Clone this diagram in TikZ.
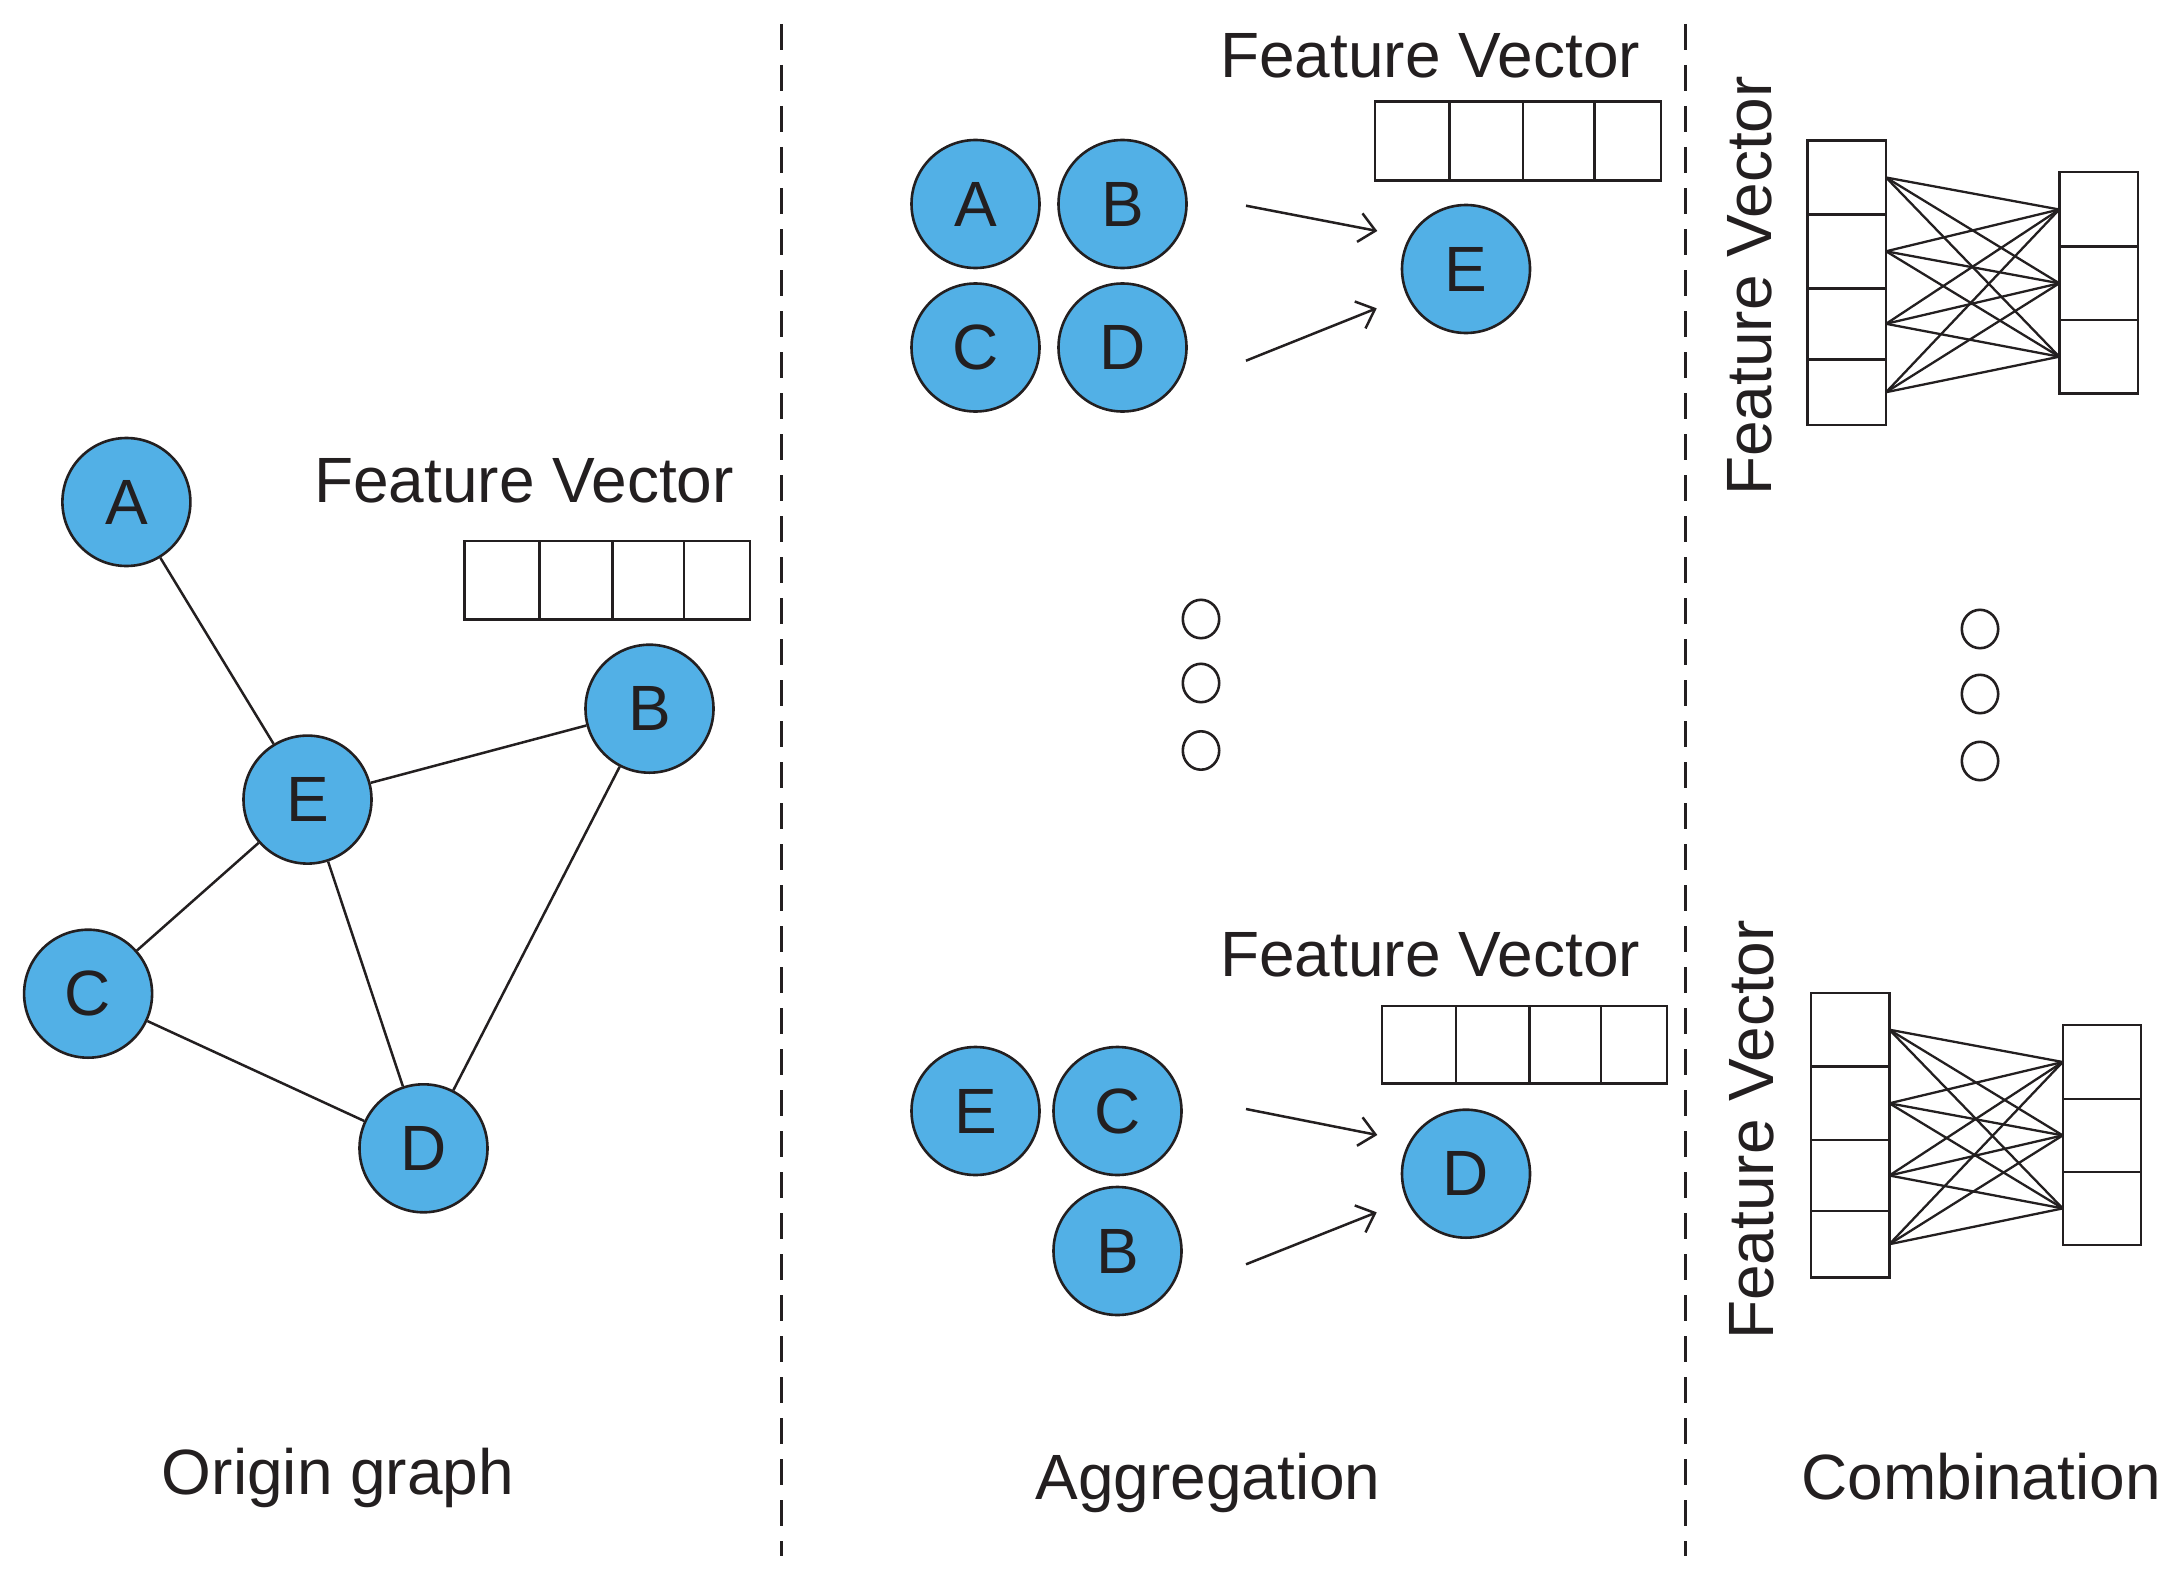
\documentclass[tikz,border=0pt]{standalone}
\usepackage{fontspec}
\setmainfont{Liberation Sans}
\usetikzlibrary{arrows.meta}
\definecolor{ink}{HTML}{231F20}
\definecolor{nodeblue}{RGB}{82,176,230}
\tikzset{
  gnode/.style={circle, draw=ink, fill=nodeblue, line width=2.6pt, minimum size=128pt, inner sep=0pt, text=ink, font=\fontsize{64}{77}\selectfont},
  lbl/.style={inner sep=0pt, text=ink, font=\fontsize{64}{77}\selectfont},
  cell/.style={rectangle, draw=ink, line width=2.4pt, inner sep=0pt, outer sep=0pt},
  edge/.style={draw=ink, line width=2.5pt},
  arr/.style={draw=ink, line width=2.5pt, -{Straight Barb[length=16pt, width=29pt, line width=2.5pt]}},
  fc/.style={draw=ink, line width=2.3pt},
  sep/.style={draw=ink, line width=2.5pt, dash pattern=on 26pt off 15pt},
  dotc/.style={draw=ink, line width=2.6pt}
}
\begin{document}
\begin{tikzpicture}[x=1pt,y=-1pt]
\useasboundingbox (0,0) rectangle (2180,1576);

% separators
\coordinate (s1t) at (781.7,24); \coordinate (s1b) at (781.7,1556);
\coordinate (s2t) at (1685.7,24); \coordinate (s2b) at (1685.7,1556);
\draw[sep] (s1t) -- (s1b);
\draw[sep] (s2t) -- (s2b);

% ---------- Origin graph ----------
\node[gnode] (gA) at (126.4,502) {A};
\node[gnode] (gE) at (307.5,799.6) {E};
\node[gnode] (gB) at (649.5,708.7) {B};
\node[gnode] (gC) at (88.1,993.7) {C};
\node[gnode] (gD) at (423.5,1148.3) {D};
\draw[edge] (gA) -- (gE);
\draw[edge] (gE) -- (gB);
\draw[edge] (gE) -- (gC);
\draw[edge] (gE) -- (gD);
\draw[edge] (gC) -- (gD);
\draw[edge] (gB) -- (gD);

\node[lbl, anchor=base] (fv0) at (524,502.9) {Feature Vector};
\node[cell, minimum width=74.9pt, minimum height=78.6pt] (v0a) at (501.85,580.3) {};
\node[cell, minimum width=73pt, minimum height=78.6pt] (v0b) at (575.8,580.3) {};
\node[cell, minimum width=71.5pt, minimum height=78.6pt] (v0c) at (648.05,580.3) {};
\node[cell, minimum width=66.2pt, minimum height=78.6pt] (v0d) at (716.9,580.3) {};

\node[lbl, anchor=base] (lorig) at (338,1494) {Origin graph};

% ---------- Aggregation (top) ----------
\node[gnode] (tA) at (975.5,204) {A};
\node[gnode] (tB) at (1122.5,204) {B};
\node[gnode] (tC) at (975.5,347.5) {C};
\node[gnode] (tD) at (1122.5,347.5) {D};
\node[gnode] (tE) at (1466,269) {E};
\coordinate (ta1s) at (1246,205.7); \coordinate (ta1e) at (1377.3,231);
\coordinate (ta2s) at (1246,360.7); \coordinate (ta2e) at (1376.7,308.3);
\draw[arr] (ta1s) -- (ta1e);
\draw[arr] (ta2s) -- (ta2e);

\node[lbl, anchor=base] (fv1) at (1430,77.3) {Feature Vector};
\node[cell, minimum width=74.3pt, minimum height=79pt] (v1a) at (1412.15,141.2) {};
\node[cell, minimum width=73.4pt, minimum height=79pt] (v1b) at (1486,141.2) {};
\node[cell, minimum width=71.6pt, minimum height=79pt] (v1c) at (1558.5,141.2) {};
\node[cell, minimum width=66.4pt, minimum height=79pt] (v1d) at (1627.5,141.2) {};

% dots
\draw[dotc] (1201,619) ellipse [x radius=18.2pt, y radius=19.2pt];
\draw[dotc] (1201,683) ellipse [x radius=18.2pt, y radius=19.2pt];
\draw[dotc] (1201,750.5) ellipse [x radius=18.2pt, y radius=19.2pt];

% ---------- Aggregation (bottom) ----------
\node[gnode] (bE) at (975.5,1111) {E};
\node[gnode] (bC) at (1117.5,1111) {C};
\node[gnode] (bB) at (1117.5,1251) {B};
\node[gnode] (bD) at (1466,1173.7) {D};
\coordinate (ba1s) at (1246,1109); \coordinate (ba1e) at (1377.3,1135);
\coordinate (ba2s) at (1246,1264.3); \coordinate (ba2e) at (1376.7,1212.3);
\draw[arr] (ba1s) -- (ba1e);
\draw[arr] (ba2s) -- (ba2e);

\node[lbl, anchor=base] (fv2) at (1430,976) {Feature Vector};
\node[cell, minimum width=74.3pt, minimum height=77.3pt] (v2a) at (1418.85,1044.65) {};
\node[cell, minimum width=73.3pt, minimum height=77.3pt] (v2b) at (1492.65,1044.65) {};
\node[cell, minimum width=71.7pt, minimum height=77.3pt] (v2c) at (1565.15,1044.65) {};
\node[cell, minimum width=65.7pt, minimum height=77.3pt] (v2d) at (1633.85,1044.65) {};

\node[lbl, anchor=base] (lagg) at (1208,1499) {Aggregation};

% ---------- Combination (top) ----------
\node[lbl, rotate=90, anchor=base] (cfv1) at (1771,286) {Feature Vector};
\node[cell, minimum width=78.7pt, minimum height=73.6pt] (tl1) at (1846.7,177.5) {};
\node[cell, minimum width=78.7pt, minimum height=74pt] (tl2) at (1846.7,251.3) {};
\node[cell, minimum width=78.7pt, minimum height=71pt] (tl3) at (1846.7,323.8) {};
\node[cell, minimum width=78.7pt, minimum height=65.7pt] (tl4) at (1846.7,392.2) {};
\node[cell, minimum width=78.4pt, minimum height=74.4pt] (tr1) at (2098.5,209.5) {};
\node[cell, minimum width=78.4pt, minimum height=73.3pt] (tr2) at (2098.5,283.3) {};
\node[cell, minimum width=78.4pt, minimum height=73.3pt] (tr3) at (2098.5,356.7) {};
\foreach \i in {1,2,3,4}{
  \foreach \j in {1,2,3}{
    \draw[fc] (tl\i.east) -- (tr\j.west);
  }
}

% right dots
\draw[dotc] (1980,629) ellipse [x radius=18.2pt, y radius=19.2pt];
\draw[dotc] (1980,694) ellipse [x radius=18.2pt, y radius=19.2pt];
\draw[dotc] (1980,761) ellipse [x radius=18.2pt, y radius=19.2pt];

% ---------- Combination (bottom) ----------
\node[lbl, rotate=90, anchor=base] (cfv2) at (1773,1130) {Feature Vector};
\node[cell, minimum width=78.3pt, minimum height=74pt] (bl1) at (1850.2,1029.7) {};
\node[cell, minimum width=78.3pt, minimum height=73.3pt] (bl2) at (1850.2,1103.3) {};
\node[cell, minimum width=78.3pt, minimum height=71pt] (bl3) at (1850.2,1175.5) {};
\node[cell, minimum width=78.3pt, minimum height=66.3pt] (bl4) at (1850.2,1244.2) {};
\node[cell, minimum width=78.3pt, minimum height=74pt] (br1) at (2101.9,1062) {};
\node[cell, minimum width=78.3pt, minimum height=72.7pt] (br2) at (2101.9,1135.4) {};
\node[cell, minimum width=78.3pt, minimum height=73.3pt] (br3) at (2101.9,1208.4) {};
\foreach \i in {1,2,3,4}{
  \foreach \j in {1,2,3}{
    \draw[fc] (bl\i.east) -- (br\j.west);
  }
}

\node[lbl, anchor=base] (lcomb) at (1981,1499.3) {Combination};
\end{tikzpicture}
\end{document}
